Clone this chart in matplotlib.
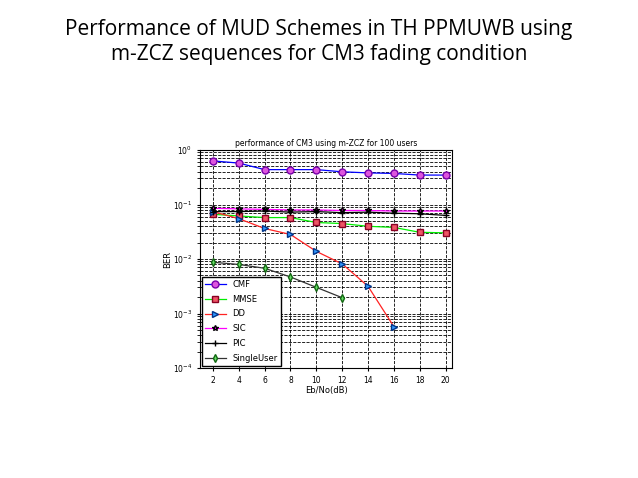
import matplotlib
matplotlib.use('Agg')
import matplotlib.pyplot as plt

x = [2, 4, 6, 8, 10, 12, 14, 16, 18, 20]
cmf = [10**-0.2, 10**-0.24, 10**-0.36, 10**-0.36, 10**-0.36, 10**-0.40, 10**-0.42, 10**-0.43, 10**-0.46, 10**-0.46]
mmse = [10**-1.18, 10**-1.21, 10**-1.24, 10**-1.24, 10**-1.33, 10**-1.35, 10**-1.40, 10**-1.42, 10**-1.51, 10**-1.52]
dd_x = [2, 4, 6, 8, 10, 12, 14, 16]
dd = [10**-1.13, 10**-1.26, 10**-1.44, 10**-1.55, 10**-1.86, 10**-2.09, 10**-2.50, 10**-3.24]
sic = [10**-1.07, 10**-1.08, 10**-1.09, 10**-1.10, 10**-1.10, 10**-1.11, 10**-1.11, 10**-1.12, 10**-1.12, 10**-1.12]
pic = [10**-1.13, 10**-1.13, 10**-1.12, 10**-1.14, 10**-1.13, 10**-1.15, 10**-1.14, 10**-1.16, 10**-1.17, 10**-1.20]
su_x = [2, 4, 6, 8, 10, 12]
su = [10**-2.06, 10**-2.10, 10**-2.17, 10**-2.33, 10**-2.52, 10**-2.71]

fig = plt.figure(figsize=(6.38, 4.78), dpi=100)
fig.text(0.5, 0.96, 'Performance of MUD Schemes in TH PPMUWB using\nm-ZCZ sequences for CM3 fading condition',
         ha='center', va='top', fontsize=15, family='Open Sans', linespacing=1.25)
ax = fig.add_axes([200/638, 1-368/478, 252/638, 218/478])
ax.semilogy(x, cmf, '-o', color='blue', mfc='#dd55dd', mec='#7700aa', ms=5, lw=0.9, label='CMF')
ax.semilogy(x, mmse, '-s', color='#00ee00', mfc='#ee5566', mec='#880022', ms=5, lw=0.9, label='MMSE')
ax.semilogy(dd_x, dd, '->', color='#ff2222', mfc='#3399ff', mec='#003388', ms=5, lw=0.9, label='DD')
ax.semilogy(x, sic, '-*', color='magenta', mec='k', ms=4, lw=0.9, label='SIC')
ax.semilogy(x, pic, '-+', color='black', ms=5, lw=0.9, label='PIC')
ax.semilogy(su_x, su, '-d', color='#333333', mfc='#66dd66', mec='#116611', ms=4, lw=0.9, label='SingleUser')
ax.set_xlim(1, 20.5)
ax.set_ylim(1e-4, 1)
ax.set_xticks(x)
ax.tick_params(labelsize=5.5, length=2)
ax.grid(True, which='both', ls='--', color='k', lw=0.6)
ax.set_xlabel('Eb/No(dB)', fontsize=6, labelpad=1)
ax.set_ylabel('BER', fontsize=6, labelpad=1)
ax.set_title('performance of CM3 using m-ZCZ for 100 users', fontsize=5.5, pad=3)
ax.legend(loc='lower left', fontsize=6, framealpha=1, fancybox=False, edgecolor='k',
          borderaxespad=0.2, labelspacing=0.7, handlelength=2.5)
fig.savefig('out.png')
